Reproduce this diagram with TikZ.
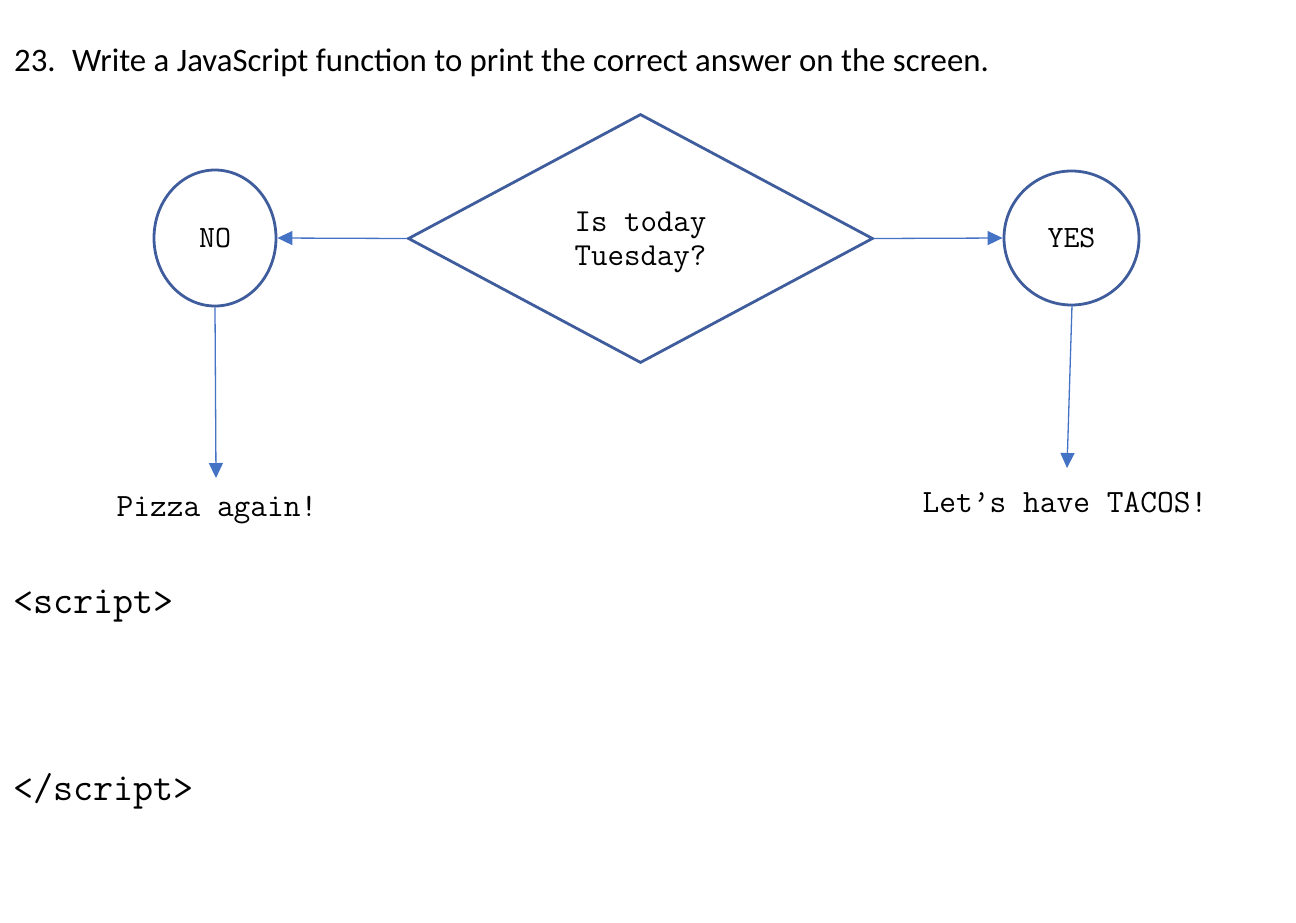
\documentclass[tikz,border=0pt]{standalone}
\usepackage{fontspec}
\setmainfont{Carlito}
\usetikzlibrary{shapes.geometric,arrows.meta}
\definecolor{shapeblue}{HTML}{3F5C9C}
\definecolor{linkblue}{HTML}{4472C4}
\tikzset{
  shapeline/.style={draw=shapeblue, line width=2.8pt},
  circlebox/.style={shapeline, ellipse, inner sep=0pt, font=\ttfamily\fontsize{31}{36}\selectfont},
  link/.style={draw=linkblue, line width=1.3pt, -{Triangle[length=15pt,width=14pt]}, color=linkblue},
  plaintext/.style={inner sep=0pt, anchor=base, font=\ttfamily\fontsize{32.5}{36}\selectfont},
}
\begin{document}
\begin{tikzpicture}[x=1pt,y=-1pt]
\useasboundingbox (0,0) rectangle (1296,922);
\node[inner sep=0pt, anchor=base west, font=\fontsize{32.8}{38}\selectfont] (title) at (14,71)
  {23.\enspace Write a JavaScript function to print the correct answer on the screen.};
\node[shapeline, diamond, aspect=1.87, minimum width=465pt, minimum height=249pt, inner sep=0pt,
  align=center, font=\ttfamily\fontsize{32}{34}\selectfont] (q) at (640.5,238.5) {\rule{0pt}{27pt}Is today\\Tuesday?};
\node[circlebox, minimum width=122pt, minimum height=136pt] (no) at (215,238) {NO};
\node[circlebox, minimum width=135pt, minimum height=134pt] (yes) at (1071.5,238) {YES};
\node[plaintext] (pizza) at (217,516) {Pizza again!};
\node[plaintext] (tacos) at (1065,512) {Let’s have TACOS!};
\coordinate (noend) at (216,478);
\coordinate (yesend) at (1067,468);
\coordinate (yesstart) at (1072,305);
\draw[link] (q.west) -- (no.east);
\draw[link] (q.east) -- (yes.west);
\draw[link] (no.south) -- (noend);
\draw[link] (yesstart) -- (yesend);
\node[inner sep=0pt, anchor=base west, font=\ttfamily\fontsize{39}{44}\selectfont] (open) at (13,613) {<script>};
\node[inner sep=0pt, anchor=base west, font=\ttfamily\fontsize{39}{44}\selectfont] (close) at (13,800) {</script>};
\end{tikzpicture}
\end{document}
